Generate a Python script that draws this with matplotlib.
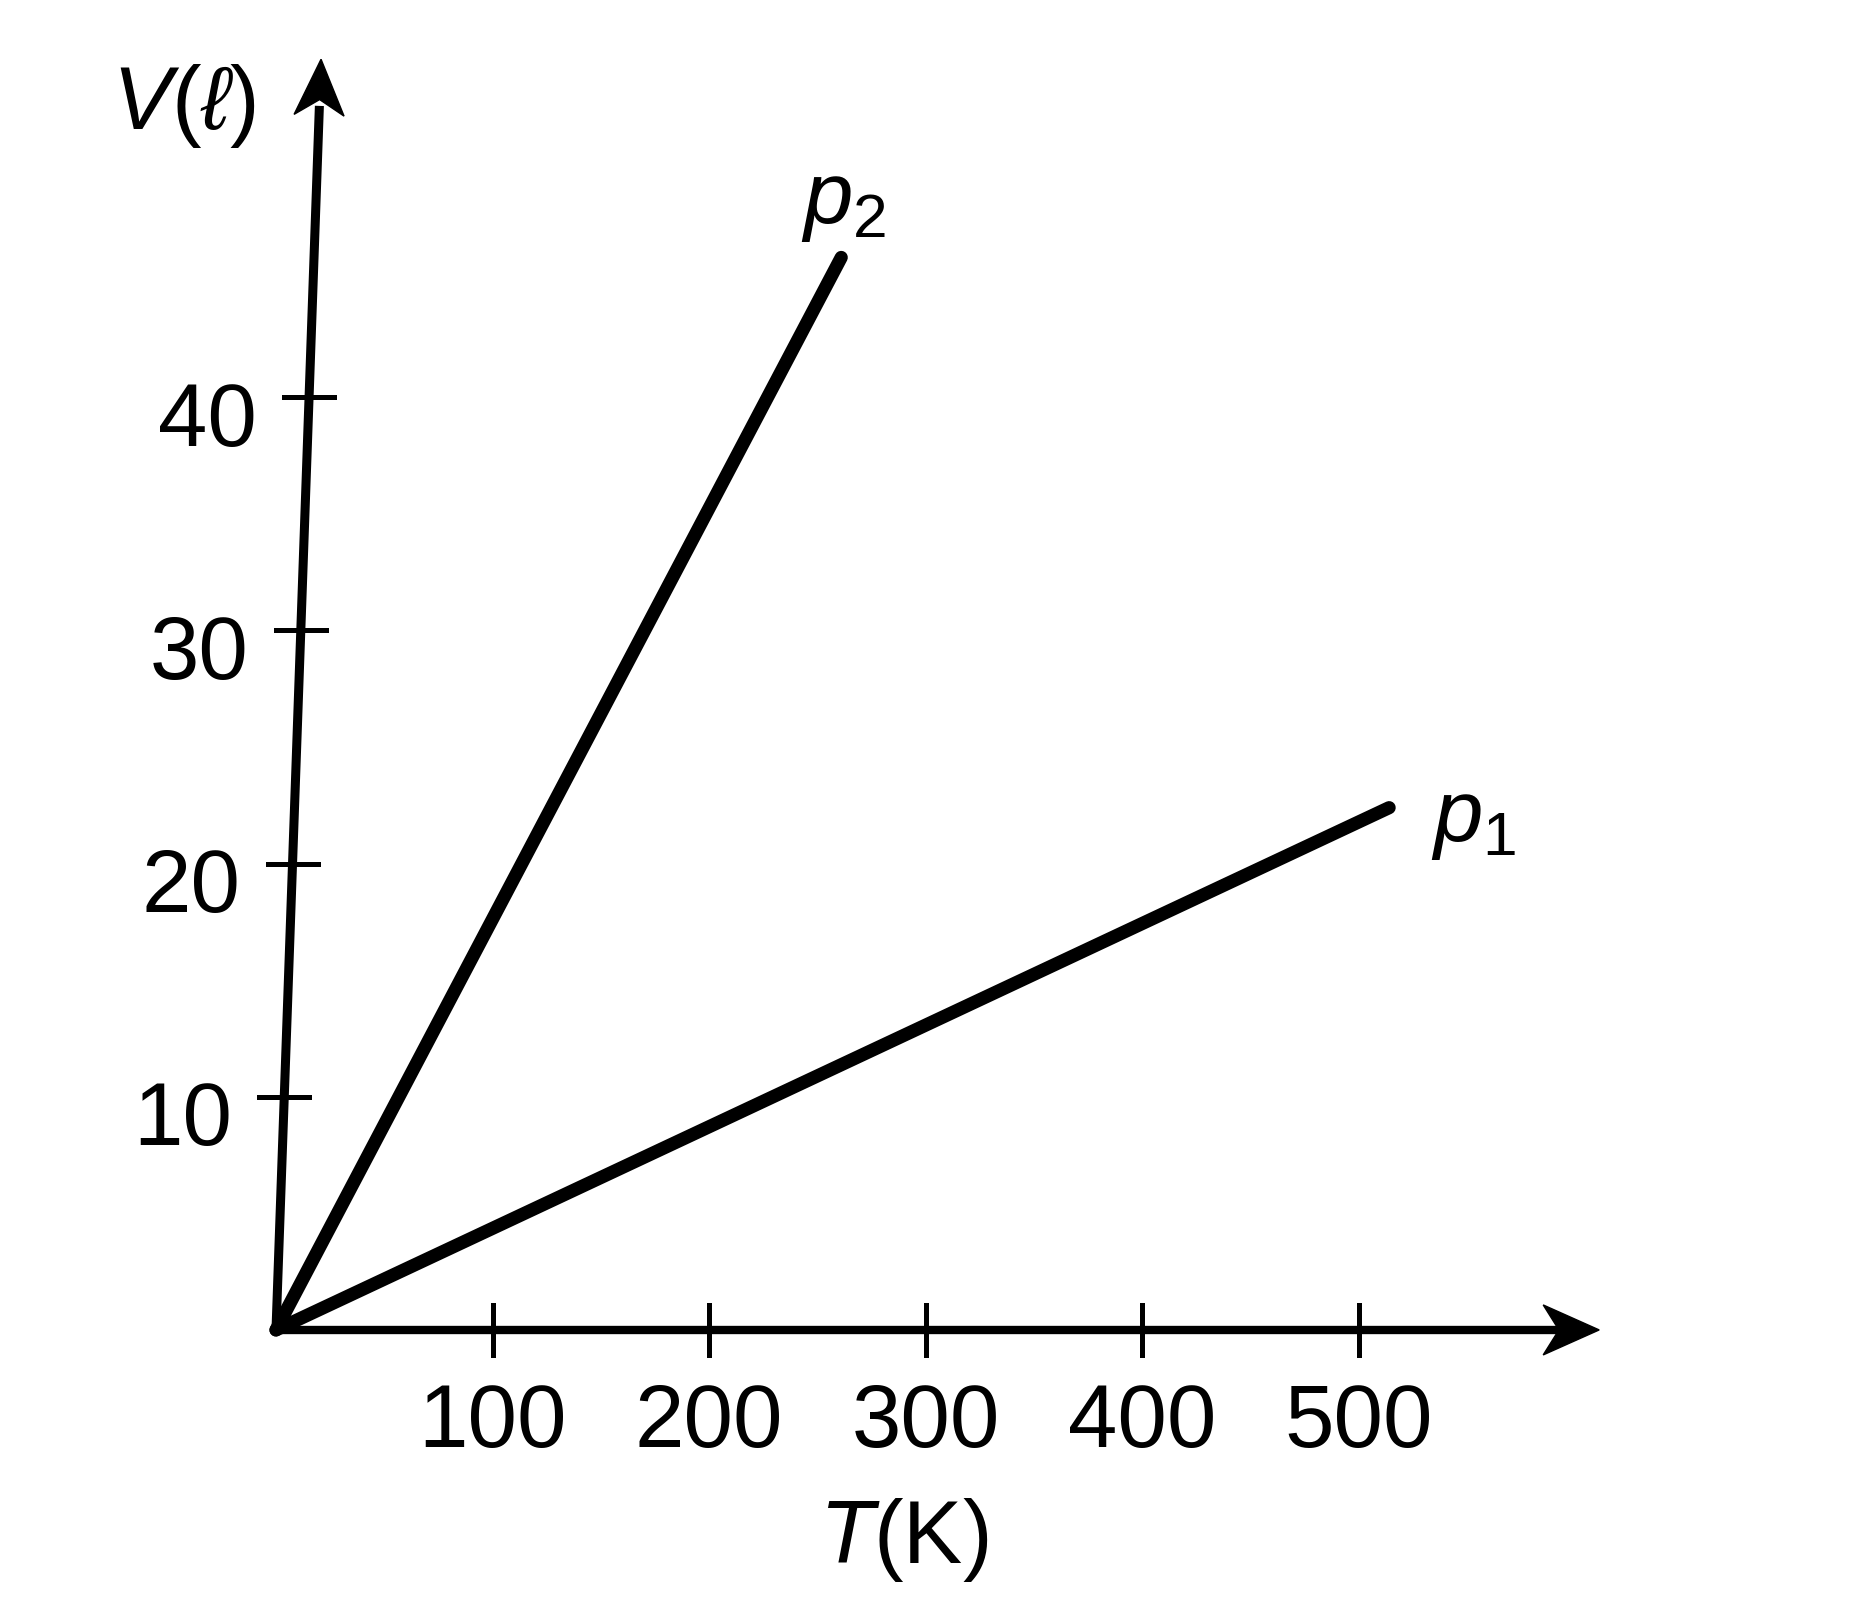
import numpy as np
import matplotlib
matplotlib.use("Agg")
import matplotlib.pyplot as plt
from matplotlib.patches import Polygon
from matplotlib.transforms import IdentityTransform

plt.rcParams['font.family'] = ['Liberation Sans', 'DejaVu Sans']
plt.rcParams['mathtext.fontset'] = 'custom'
plt.rcParams['mathtext.rm'] = 'Liberation Sans'
plt.rcParams['mathtext.it'] = 'Liberation Sans:italic'

# data
x_ticks = [100, 200, 300, 400, 500]
y_ticks = [10, 20, 30, 40]
p2_T = [0, 261]
p2_V = [0, 46.0]
p1_T = [0, 514]
p1_V = [0, 22.4]

W, H = 1864, 1615
fig = plt.figure(figsize=(W / 100, H / 100 + 0.004), dpi=100)
ax = fig.add_axes([276 / W, (H - 1330) / H, 1386 / W, 1282 / H])
ax.set_xlim(0, 640)
ax.set_ylim(0, 55)
ax.axis('off')

px_T = 640 / 1386   # data units per pixel
px_V = 55 / 1282

# scanned y axis leans a little to the right
y_top = 54.5
slant = 20.8 / y_top


def arrow_head(tip, base, L=56, Wd=25):
    # notched arrow head drawn in pixel space
    t = ax.transData.transform(tip)
    b = ax.transData.transform(base)
    d = (t - b) / np.hypot(*(t - b))
    n = np.array([-d[1], d[0]])
    pts = [t, t - L * d + Wd * n, t - 0.72 * L * d, t - L * d - Wd * n]
    ax.add_patch(Polygon(pts, closed=True, color='black', transform=IdentityTransform(),
                         clip_on=False, zorder=5))


# axes lines
ax.plot([0, slant * (y_top - 2)], [0, y_top - 2], color='black', lw=6.5,
        solid_capstyle='butt', clip_on=False)
arrow_head((slant * y_top, y_top), (0, 0))
ax.plot([-2, 600], [0, 0], color='black', lw=6.0, solid_capstyle='butt', clip_on=False)
arrow_head((611, 0), (0, 0))

# ticks
for t in x_ticks:
    ax.plot([t, t], [-25 * px_V, 25 * px_V], color='black', lw=3.6, clip_on=False)
    ax.text(t, -94 * px_V, str(t), ha='center', va='center', fontsize=64)
for v in y_ticks:
    xa = slant * v
    ax.plot([xa - 25 * px_T, xa + 25 * px_T], [v, v], color='black', lw=3.6, clip_on=False)
    ax.text(xa - 52 * px_T, v - 25 * px_V, str(v), ha='right', va='center', fontsize=64)

# isobars
ax.plot(p2_T, p2_V, color='black', lw=9.5, solid_capstyle='round', clip_on=False)
ax.plot(p1_T, p1_V, color='black', lw=9.5, solid_capstyle='round', clip_on=False)

ax.text(p2_T[1] + 1, p2_V[1] + 2.4, r'$p_2$', ha='center', va='center', fontsize=64)
ax.text(p1_T[1] + 39, p1_V[1] - 0.5, r'$p_1$', ha='center', va='center', fontsize=64)

# axis labels
ax.text(-42.5, 52.5, r'$V(\ell)$', ha='center', va='center', fontsize=64, clip_on=False)
ax.text(290, -9.0, r'$T\mathrm{(K)}$', ha='center', va='center', fontsize=64, clip_on=False)

fig.savefig('out.png', dpi=100, facecolor='white')
